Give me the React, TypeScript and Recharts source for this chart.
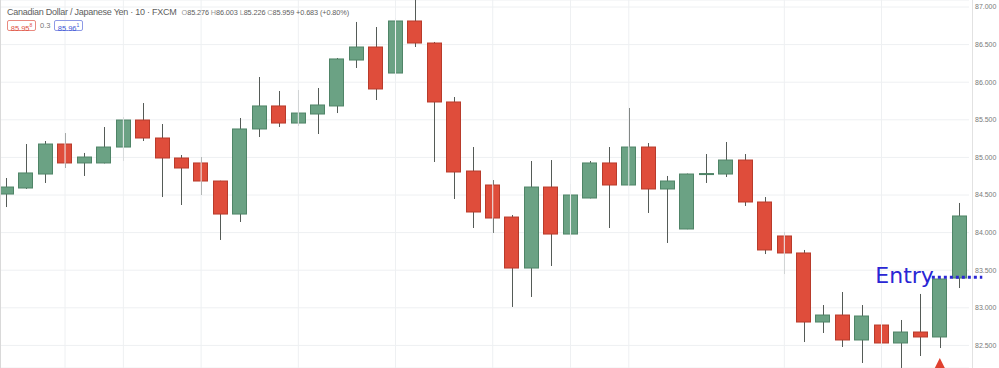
import React from 'react';
import { ComposedChart, Bar, XAxis, YAxis, CartesianGrid, ReferenceLine, ReferenceDot } from 'recharts';

const categories = Array.from({ length: 50 }, (_, i) => String(i + 1));

const opens = [
  84.513, 84.593, 84.779, 85.178, 84.926, 84.926, 85.138, 85.497, 85.258, 84.992,
  84.926, 84.686, 84.247, 85.378, 85.684, 85.457, 85.577, 85.684, 86.295, 86.468,
  86.122, 86.814, 86.521, 85.737, 84.819, 84.633, 84.207, 83.529, 84.606, 83.981,
  84.46, 84.926, 84.633, 85.138, 84.58, 84.048, 84.775, 84.779, 84.965, 84.407,
  83.955, 83.729, 82.811, 82.904, 82.572, 82.771, 82.532, 82.678, 82.612, 83.396,
];
const closes = [
  84.606, 84.793, 85.178, 84.926, 85.005, 85.138, 85.497, 85.258, 84.992, 84.859,
  84.686, 84.247, 85.378, 85.684, 85.457, 85.59, 85.697, 86.309, 86.468, 85.91,
  86.814, 86.521, 85.737, 84.806, 84.274, 84.194, 83.529, 84.606, 83.981, 84.5,
  84.926, 84.633, 85.138, 84.58, 84.686, 84.779, 84.785, 84.965, 84.407, 83.769,
  83.729, 82.811, 82.904, 82.572, 82.891, 82.532, 82.678, 82.612, 83.383, 84.221,
];
const highs = [
  84.726, 85.178, 85.218, 85.324, 85.059, 85.404, 85.537, 85.723, 85.444, 85.032,
  85.005, 84.69, 85.524, 86.069, 85.883, 85.896, 85.923, 86.322, 86.801, 86.734,
  86.854, 87.093, 86.535, 85.803, 85.138, 84.699, 84.234, 84.952, 84.965, 84.646,
  84.952, 85.138, 85.657, 85.191, 84.753, 84.785, 85.045, 85.205, 85.045, 84.473,
  84.008, 83.769, 83.037, 83.21, 83.037, 82.904, 82.838, 83.184, 83.39, 84.394,
];
const lows = [
  84.34, 84.58, 84.66, 84.859, 84.753, 84.92, 84.952, 85.218, 84.473, 84.367,
  84.5, 83.902, 84.141, 85.271, 85.404, 85.418, 85.311, 85.59, 86.189, 85.763,
  86.029, 86.468, 84.939, 84.447, 84.061, 83.995, 83.011, 83.144, 83.556, 83.928,
  84.455, 84.061, 84.63, 84.261, 83.862, 84.045, 84.66, 84.739, 84.354, 83.715,
  83.449, 82.545, 82.665, 82.479, 82.266, 82.2, 82.2, 82.359, 82.465, 83.263,
];

const priceTicks = [82.5, 83.0, 83.5, 84.0, 84.5, 85.0, 85.5, 86.0, 86.5, 87.0];
const gridCategories = ['4', '7', '11', '16', '21', '26', '30', '33', '41', '46'];
const entryPrice = 83.406;
const entryCategories = ['49', '50'];
const signalCategory = '49';
const signalPrice = 82.253;

const data = categories.map((t, i) => ({
  t,
  open: opens[i],
  close: closes[i],
  high: highs[i],
  low: lows[i],
}));

const GREEN = '#6ba284';
const GREEN_B = '#4f8467';
const RED = '#df4d3b';
const RED_B = '#b83b2b';
const WICK = '#555b57';
const BLUE = '#2a26d4';

const Candle = (props: any) => {
  const { x, y, width, height, payload } = props;
  if (!payload) return null;
  const { open, close, high, low } = payload;
  const top = Math.min(y, y + height);
  const h = Math.abs(height);
  const ratio = h / (high - low);
  const yO = top + (high - open) * ratio;
  const yC = top + (high - close) * ratio;
  const up = close >= open;
  const bodyTop = Math.min(yO, yC);
  const bodyH = Math.max(1, Math.abs(yO - yC));
  const cx = Math.round(x + width / 2) + 0.5;
  const bx = Math.round(x) + 0.5;
  return (
    <g>
      <line x1={cx} x2={cx} y1={top} y2={top + h} stroke={WICK} strokeWidth={1} />
      <rect
        x={bx}
        y={bodyTop}
        width={Math.round(width) - 1}
        height={bodyH}
        fill={up ? GREEN : RED}
        stroke={up ? GREEN_B : RED_B}
        strokeWidth={1}
      />
    </g>
  );
};

const EntryShape = (props: any) => {
  const { x1, x2, y1 } = props;
  if (x1 == null) return null;
  const start = x1 - 8;
  const end = x2 + 23;
  return (
    <g>
      <text
        x={start + 2}
        y={y1 + 6}
        textAnchor="end"
        fill={BLUE}
        fontSize={22}
        fontFamily="DejaVu Sans, sans-serif"
      >
        Entry
      </text>
      <line x1={start} x2={end} y1={y1} y2={y1} stroke={BLUE} strokeWidth={3} strokeDasharray="3 3" />
    </g>
  );
};

const Triangle = (props: any) => {
  const { cx, cy } = props;
  if (cx == null) return null;
  return <path d={`M${cx},${cy - 6} L${cx + 6},${cy + 6} L${cx - 6},${cy + 6} Z`} fill="#e0402f" />;
};

const FONT = 'Liberation Sans, Arial, sans-serif';

export default function App() {
  return (
    <div style={{ position: 'absolute', left: 0, top: 0, width: 999, height: 368, overflow: 'hidden', background: '#fff' }}>
      <div style={{ position: 'absolute', left: -3, top: 0 }}>
        <ComposedChart width={1002} height={368} data={data} margin={{ top: 0, right: 0, bottom: 0, left: 0 }}>
          <CartesianGrid horizontal vertical={false} stroke="#eef0f2" />
          <XAxis dataKey="t" type="category" hide />
          <YAxis
            orientation="right"
            width={30}
            domain={[82.1995, 87.0931]}
            allowDataOverflow
            ticks={priceTicks}
            tickFormatter={(v: number) => v.toFixed(3)}
            tickLine={false}
            axisLine={false}
            tickSize={4}
            tickMargin={2}
            tick={{ fontSize: 7, fill: '#7a7a7a', fontFamily: FONT }}
          />
          {gridCategories.map((c) => (
            <ReferenceLine key={c} x={c} stroke="#eef0f2" />
          ))}
          <Bar dataKey={(d: any) => [d.low, d.high]} barSize={15} shape={<Candle />} isAnimationActive={false} />
          <ReferenceLine
            segment={[
              { x: entryCategories[0], y: entryPrice },
              { x: entryCategories[1], y: entryPrice },
            ]}
            ifOverflow="visible"
            shape={<EntryShape />}
          />
          <ReferenceDot x={signalCategory} y={signalPrice} r={6} ifOverflow="visible" shape={<Triangle />} />
        </ComposedChart>
      </div>
      <div style={{ position: 'absolute', left: 0, top: 0, width: 1, height: 368, background: '#d9d9d9' }} />
      <div style={{ position: 'absolute', left: 972, top: 0, width: 1, height: 368, background: '#e2e2e2' }} />
      <div
        style={{
          position: 'absolute',
          left: 7,
          top: 5,
          fontFamily: FONT,
          lineHeight: '10px',
          color: '#5e5e5e',
          whiteSpace: 'nowrap',
        }}
      >
        <span style={{ fontSize: 9, letterSpacing: -0.25 }}>Canadian Dollar / Japanese Yen · 10 · FXCM</span>
        <span style={{ fontSize: 7.3, letterSpacing: -0.1, marginLeft: 5 }}>
          <span style={{ color: '#9a9a9a' }}>O</span>85.276 <span style={{ color: '#9a9a9a' }}>H</span>86.003{' '}
          <span style={{ color: '#9a9a9a' }}>L</span>85.226 <span style={{ color: '#9a9a9a' }}>C</span>85.959 +0.683 (+0.80%)
        </span>
      </div>
      <div
        style={{
          position: 'absolute',
          left: 7,
          top: 20,
          width: 27,
          height: 9,
          border: '1px solid #e98a80',
          borderRadius: 2,
          color: '#e0503f',
          fontFamily: FONT,
          fontSize: 7.5,
          lineHeight: '9px',
          textAlign: 'center',
        }}
      >
        85.95<sup style={{ fontSize: 5 }}>8</sup>
      </div>
      <div
        style={{
          position: 'absolute',
          left: 40,
          top: 21,
          color: '#777',
          fontFamily: FONT,
          fontSize: 7.5,
          lineHeight: '9px',
        }}
      >
        0.3
      </div>
      <div
        style={{
          position: 'absolute',
          left: 54,
          top: 20,
          width: 27,
          height: 9,
          border: '1px solid #8e9ae6',
          borderRadius: 2,
          color: '#3d56d6',
          fontFamily: FONT,
          fontSize: 7.5,
          lineHeight: '9px',
          textAlign: 'center',
        }}
      >
        85.96<sup style={{ fontSize: 5 }}>1</sup>
      </div>
    </div>
  );
}
